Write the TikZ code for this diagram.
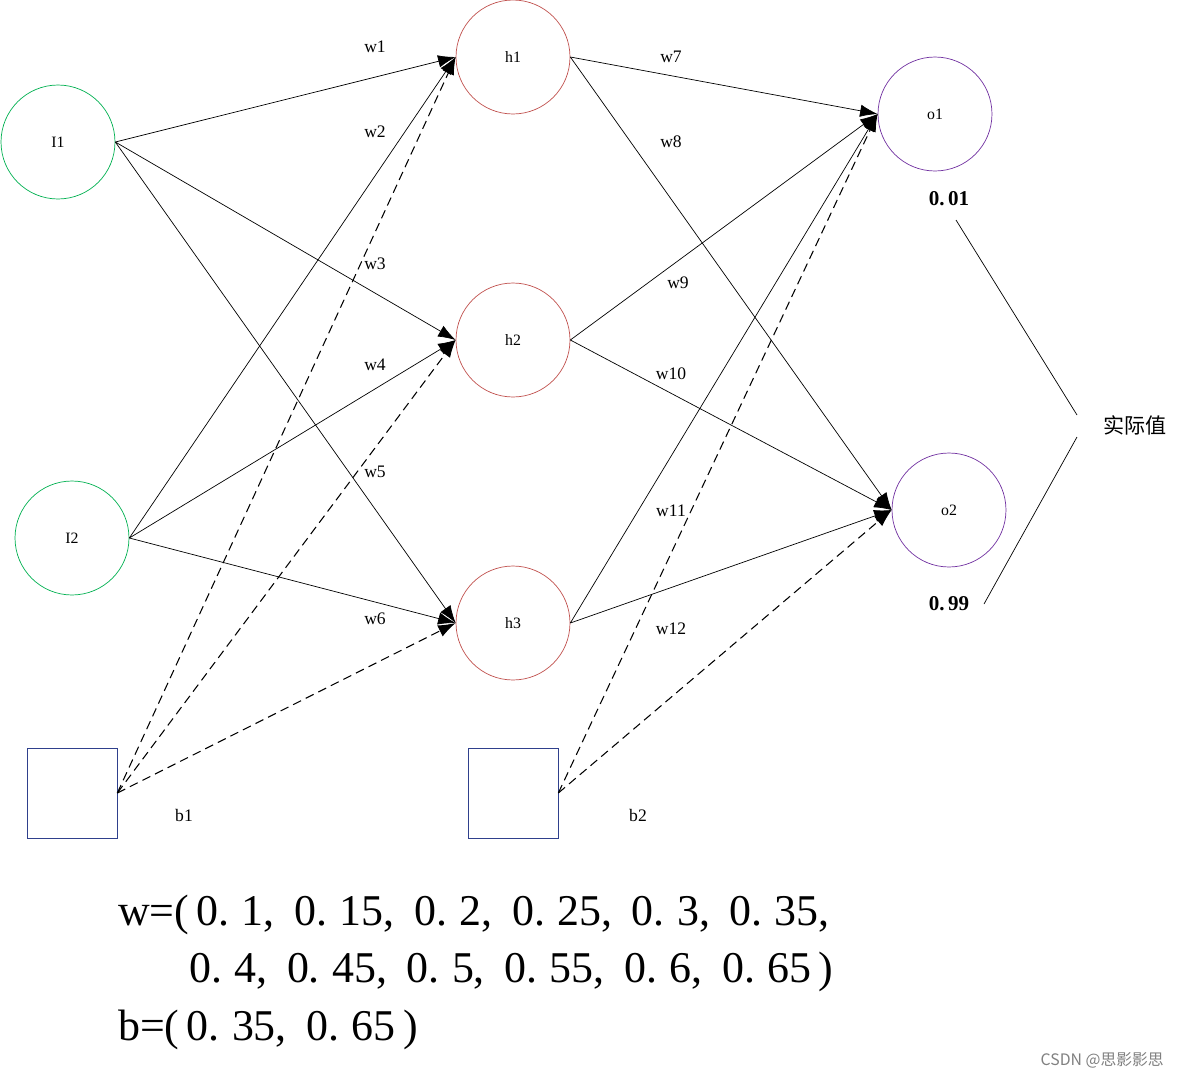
\documentclass[tikz,border=0pt]{standalone}
\usepackage{fontspec}
\setmainfont{Liberation Serif}
\newfontfamily\cjk{Noto Sans CJK SC}
\usetikzlibrary{arrows.meta}
\definecolor{ingreen}{RGB}{0,176,80}
\definecolor{hidred}{RGB}{192,80,77}
\definecolor{outpurple}{RGB}{112,48,160}
\definecolor{biasblue}{RGB}{47,64,140}
\newcommand{\cs}{,\hspace{0.45em}}
\begin{document}
\begin{tikzpicture}[x=0.02cm,y=-0.02cm,
    neuron/.style={circle,draw,minimum size=2.28cm,inner sep=0pt,font=\small},
    bias/.style={rectangle,draw=biasblue,minimum size=1.8cm,inner sep=0pt},
    link/.style={-{Latex[length=10pt,width=7pt]}},
    blink/.style={link,dash pattern=on 5pt off 3pt,semithick},
    wlabel/.style={font=\normalsize}]
  \useasboundingbox (0,0) rectangle (1184,1079);
  \node[neuron,draw=ingreen] (I1) at (58,142) {I1};
  \node[neuron,draw=ingreen] (I2) at (72,538) {I2};
  \foreach \n/\y in {1/57, 2/340, 3/623}
    \node[neuron,draw=hidred] (h\n) at (513,\y) {h\n};
  \node[neuron,draw=outpurple] (o1) at (935,114) {o1};
  \node[neuron,draw=outpurple] (o2) at (949,510) {o2};
  \node[bias] (b1) at (72,793) {};
  \node[bias] (b2) at (513,793) {};
  % input -> hidden
  \foreach \i in {1,2}
    \foreach \h in {1,2,3}
      \draw[link] (I\i.east) -- (h\h.west);
  \foreach \h in {1,2,3}
    \draw[blink] (b1.east) -- (h\h.west);
  % hidden -> output
  \foreach \h in {1,2,3}
    \foreach \o in {1,2}
      \draw[link] (h\h.east) -- (o\o.west);
  \foreach \o in {1,2}
    \draw[blink] (b2.east) -- (o\o.west);
  % weights
  \foreach \t/\x/\y in {w1/375/47, w2/375/132, w3/375/264, w4/375/365, w5/375/472, w6/375/619,
      w7/671/57, w8/671/142, w9/678/283, w10/671/374, w11/671/511, w12/671/629}
    \node[wlabel] (\t) at (\x,\y) {\t};
  \node[wlabel] (lb1) at (184,815) {b1};
  \node[wlabel] (lb2) at (638,815) {b2};
  \node[font=\large\bfseries] (t1) at (949,199) {0.\,01};
  \node[font=\large\bfseries] (t2) at (949,604) {0.\,99};
  \node[font=\cjk\large] (real) at (1135,425) {实际值};
  \coordinate (m1) at (1077,415);
  \coordinate (m2) at (1077,437);
  \draw (956,220) -- (m1);
  \draw (m2) -- (984,604);
  \node[anchor=west,font=\fontsize{25}{28}\selectfont] (wv) at (112,915) {w=(\,0.\;1\cs 0.\;15\cs 0.\;2\cs 0.\;25\cs 0.\;3\cs 0.\;35,};
  \node[anchor=west,font=\fontsize{25}{28}\selectfont] (wv2) at (183,972) {0.\;4\cs 0.\;45\cs 0.\;5\cs 0.\;55\cs 0.\;6\cs 0.\;65\,)};
  \node[anchor=west,font=\fontsize{25}{28}\selectfont] (bv) at (112,1030) {b=(\,0.\;35\cs 0.\;65\,)};
  \node[anchor=east,text=gray,font=\cjk\small] (mark) at (1170,1060) {CSDN @思影影思};
\end{tikzpicture}
\end{document}
